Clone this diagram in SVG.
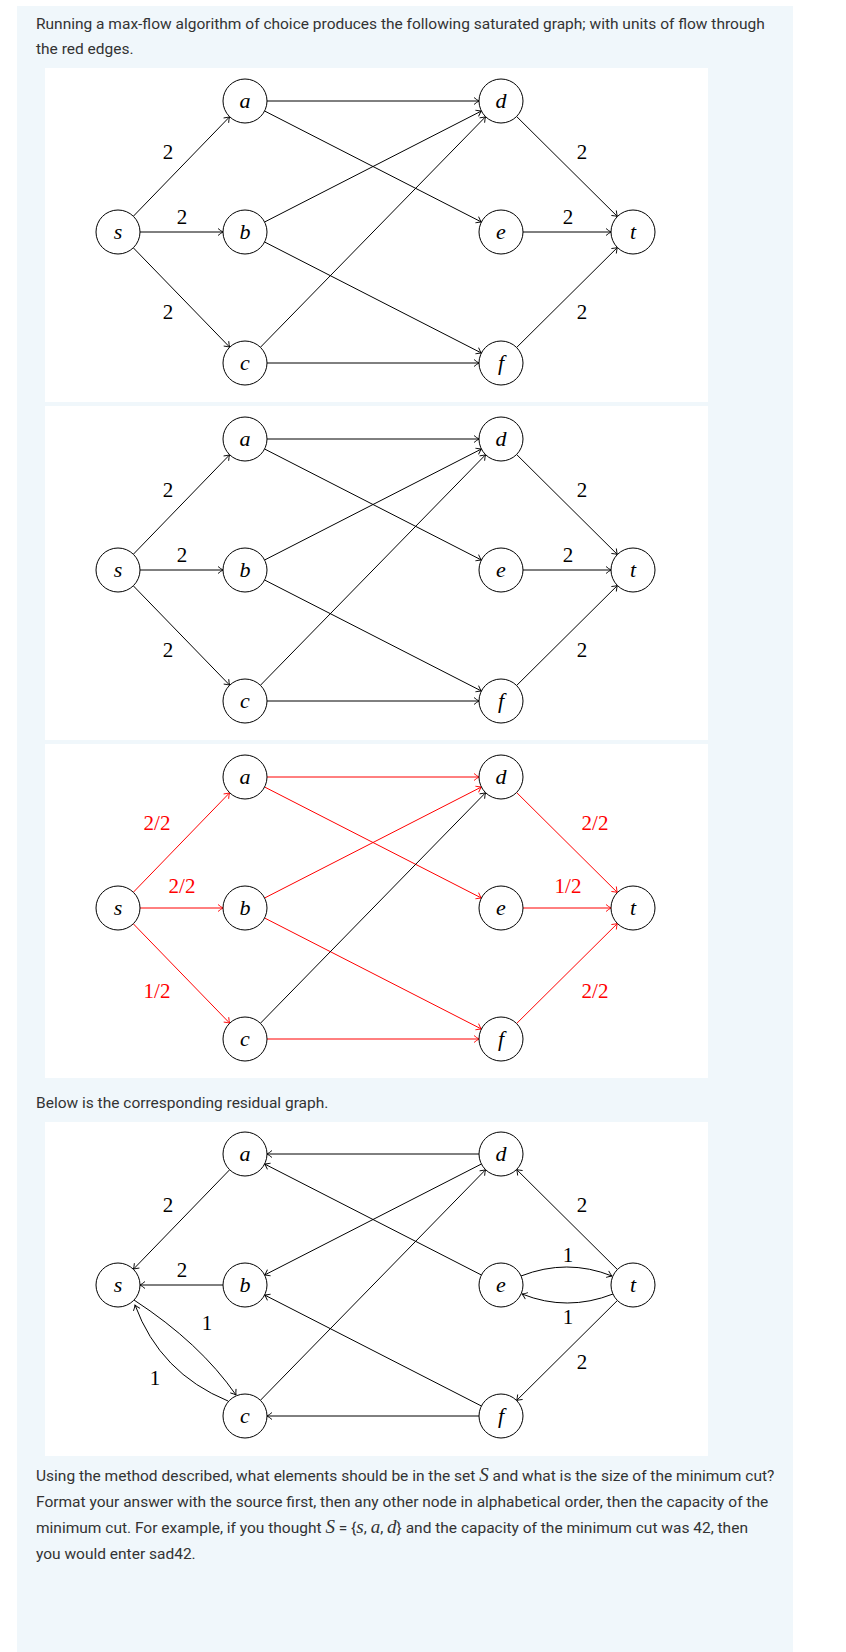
<svg xmlns="http://www.w3.org/2000/svg" width="846" height="1652" viewBox="0 0 846 1652">
<style>
.t{font-family:Roboto,"Liberation Sans",sans-serif;font-size:15.5px;fill:#333}
.m{font-family:"Liberation Serif",serif;font-style:italic;font-size:22px;text-anchor:middle;fill:#000}
.n{font-family:"Liberation Serif",serif;font-size:21px;text-anchor:middle;fill:#000}
.r{fill:#f00}
.e{stroke:#000;stroke-width:1;fill:none;marker-end:url(#ab)}
.er{stroke:#f00;stroke-width:1;fill:none;marker-end:url(#ar)}
.c{fill:#fff;stroke:#000;stroke-width:1}
</style>
<defs>
<marker id="ab" markerUnits="userSpaceOnUse" markerWidth="10" markerHeight="10" viewBox="-6 -5 8 10" refX="0" refY="0" orient="auto"><path d="M-5,-3.5 Q-2,-1 0,0 Q-2,1 -5,3.5" fill="none" stroke="#000" stroke-width="0.9"/></marker>
<marker id="ar" markerUnits="userSpaceOnUse" markerWidth="10" markerHeight="10" viewBox="-6 -5 8 10" refX="0" refY="0" orient="auto"><path d="M-5,-3.5 Q-2,-1 0,0 Q-2,1 -5,3.5" fill="none" stroke="#f00" stroke-width="0.9"/></marker>
<g id="nodes">
<circle class="c" cx="118" cy="232" r="22"/><circle class="c" cx="245" cy="101" r="22"/><circle class="c" cx="245" cy="232" r="22"/><circle class="c" cx="245" cy="363" r="22"/><circle class="c" cx="501" cy="101" r="22"/><circle class="c" cx="501" cy="232" r="22"/><circle class="c" cx="501" cy="363" r="22"/><circle class="c" cx="633" cy="232" r="22"/>
<text class="m" x="118" y="239">s</text><text class="m" x="245" y="108">a</text><text class="m" x="245" y="239">b</text><text class="m" x="245" y="370">c</text><text class="m" x="501" y="108">d</text><text class="m" x="501" y="239">e</text><text class="m" x="501" y="370">f</text><text class="m" x="633" y="239">t</text>
</g>
</defs>
<rect x="17" y="6" width="776" height="1646" fill="#f0f7fb"/>
<text class="t" x="36" y="29">Running a max-flow algorithm of choice produces the following saturated graph; with units of flow through</text>
<text class="t" x="36" y="54">the red edges.</text>
<rect x="45" y="68" width="663" height="334" fill="#fff"/>
<rect x="45" y="406" width="663" height="334" fill="#fff"/>
<rect x="45" y="744" width="663" height="334" fill="#fff"/>
<text class="t" x="36" y="1108">Below is the corresponding residual graph.</text>
<rect x="45" y="1122" width="663" height="334" fill="#fff"/>
<text class="t" x="36" y="1481">Using the method described, what elements should be in the set <tspan font-family="Liberation Serif" font-style="italic" font-size="19">S</tspan> and what is the size of the minimum cut?</text>
<text class="t" x="36" y="1507">Format your answer with the source first, then any other node in alphabetical order, then the capacity of the</text>
<text class="t" x="36" y="1533">minimum cut. For example, if you thought <tspan font-family="Liberation Serif" font-style="italic" font-size="19">S</tspan> = {<tspan font-family="Liberation Serif" font-style="italic" font-size="19">s</tspan>, <tspan font-family="Liberation Serif" font-style="italic" font-size="19">a</tspan>, <tspan font-family="Liberation Serif" font-style="italic" font-size="19">d</tspan>} and the capacity of the minimum cut was 42, then</text>
<text class="t" x="36" y="1559">you would enter sad42.</text>

<g id="connectors">
<g id="g1edges">
<line class="e" x1="133.4" y1="216.2" x2="229.6" y2="116.8"/>
<line class="e" x1="140" y1="232" x2="223" y2="232"/>
<line class="e" x1="133.3" y1="247.8" x2="229.7" y2="347.2"/>
<line class="e" x1="267" y1="101" x2="479" y2="101"/>
<line class="e" x1="264.6" y1="111" x2="481.4" y2="222"/>
<line class="e" x1="264.6" y1="222" x2="481.4" y2="111"/>
<line class="e" x1="264.6" y1="242" x2="481.4" y2="353"/>
<line class="e" x1="260.4" y1="347.3" x2="485.6" y2="116.7"/>
<line class="e" x1="267" y1="363" x2="479" y2="363"/>
<line class="e" x1="516.6" y1="116.5" x2="617.4" y2="216.5"/>
<line class="e" x1="523" y1="232" x2="611" y2="232"/>
<line class="e" x1="516.6" y1="347.5" x2="617.4" y2="247.5"/>
</g>
<g id="g2edges" transform="translate(0,338)">
<line class="e" x1="133.4" y1="216.2" x2="229.6" y2="116.8"/>
<line class="e" x1="140" y1="232" x2="223" y2="232"/>
<line class="e" x1="133.3" y1="247.8" x2="229.7" y2="347.2"/>
<line class="e" x1="267" y1="101" x2="479" y2="101"/>
<line class="e" x1="264.6" y1="111" x2="481.4" y2="222"/>
<line class="e" x1="264.6" y1="222" x2="481.4" y2="111"/>
<line class="e" x1="264.6" y1="242" x2="481.4" y2="353"/>
<line class="e" x1="260.4" y1="347.3" x2="485.6" y2="116.7"/>
<line class="e" x1="267" y1="363" x2="479" y2="363"/>
<line class="e" x1="516.6" y1="116.5" x2="617.4" y2="216.5"/>
<line class="e" x1="523" y1="232" x2="611" y2="232"/>
<line class="e" x1="516.6" y1="347.5" x2="617.4" y2="247.5"/>
</g>
<g id="g3edges" transform="translate(0,676)">
<line class="er" x1="133.4" y1="216.2" x2="229.6" y2="116.8"/>
<line class="er" x1="140" y1="232" x2="223" y2="232"/>
<line class="er" x1="133.3" y1="247.8" x2="229.7" y2="347.2"/>
<line class="er" x1="267" y1="101" x2="479" y2="101"/>
<line class="er" x1="264.6" y1="111" x2="481.4" y2="222"/>
<line class="er" x1="264.6" y1="222" x2="481.4" y2="111"/>
<line class="er" x1="264.6" y1="242" x2="481.4" y2="353"/>
<line class="e" x1="260.4" y1="347.3" x2="485.6" y2="116.7"/>
<line class="er" x1="267" y1="363" x2="479" y2="363"/>
<line class="er" x1="516.6" y1="116.5" x2="617.4" y2="216.5"/>
<line class="er" x1="523" y1="232" x2="611" y2="232"/>
<line class="er" x1="516.6" y1="347.5" x2="617.4" y2="247.5"/>
</g>
<g id="g4edges" transform="translate(0,1053)">
<line class="e" x2="133.4" y2="216.2" x1="229.6" y1="116.8"/>
<line class="e" x2="140" y2="232" x1="223" y1="232"/>
<path class="e" d="M134,247 Q200,290 236,342"/>
<path class="e" d="M228,348 Q160,320 135,252"/>
<line class="e" x2="267" y2="101" x1="479" y1="101"/>
<line class="e" x2="264.6" y2="111" x1="481.4" y1="222"/>
<line class="e" x2="264.6" y2="222" x1="481.4" y1="111"/>
<line class="e" x2="264.6" y2="242" x1="481.4" y1="353"/>
<line class="e" x1="260.4" y1="347.3" x2="485.6" y2="116.7"/>
<line class="e" x2="267" y2="363" x1="479" y1="363"/>
<line class="e" x2="516.6" y2="116.5" x1="617.4" y1="216.5"/>
<path class="e" d="M521,223 Q567,205 612,223"/>
<path class="e" d="M613,241 Q567,259 522,241"/>
<line class="e" x2="516.6" y2="347.5" x1="617.4" y1="247.5"/>
</g>
</g>

<g id="graph1"><use href="#nodes"/>
<text class="n" x="168" y="159">2</text><text class="n" x="182" y="224">2</text><text class="n" x="168" y="319">2</text><text class="n" x="582" y="159">2</text><text class="n" x="568" y="224">2</text><text class="n" x="582" y="319">2</text></g>
<g id="graph2" transform="translate(0,338)"><use href="#nodes"/>
<text class="n" x="168" y="159">2</text><text class="n" x="182" y="224">2</text><text class="n" x="168" y="319">2</text><text class="n" x="582" y="159">2</text><text class="n" x="568" y="224">2</text><text class="n" x="582" y="319">2</text></g>
<g id="graph3" transform="translate(0,676)"><use href="#nodes"/>
<text class="n r" x="157" y="154">2/2</text><text class="n r" x="182" y="217">2/2</text><text class="n r" x="157" y="322">1/2</text><text class="n r" x="595" y="154">2/2</text><text class="n r" x="568" y="217">1/2</text><text class="n r" x="595" y="322">2/2</text></g>
<g id="graph4" transform="translate(0,1053)"><use href="#nodes"/>
<text class="n" x="168" y="159">2</text><text class="n" x="182" y="224">2</text><text class="n" x="207" y="277">1</text><text class="n" x="155" y="332">1</text><text class="n" x="582" y="159">2</text><text class="n" x="568" y="209">1</text><text class="n" x="568" y="271">1</text><text class="n" x="582" y="316">2</text></g>
</svg>
